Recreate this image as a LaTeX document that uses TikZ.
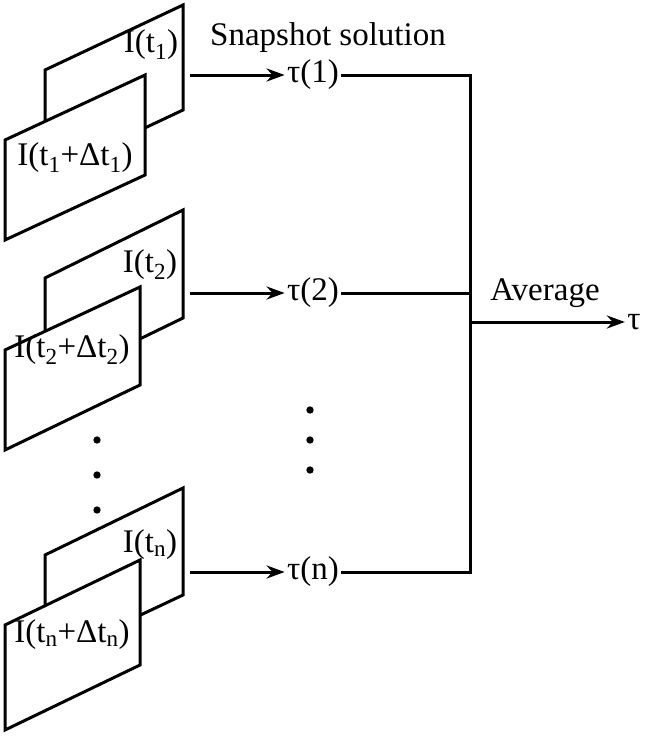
\documentclass[tikz,border=0pt]{standalone}
\usepackage{fontspec}
\setmainfont{Liberation Serif}
\usetikzlibrary{arrows.meta}
\newcommand{\sbs}[1]{\textsubscript{#1}}
\begin{document}
\begin{tikzpicture}[x=1pt,y=-1pt,line width=3pt,
  frame/.style={draw,fill=white,line join=miter},
  lbl/.style={font=\fontsize{33}{38}\selectfont,inner sep=1pt},
  arr/.style={-{Stealth[length=18pt,width=13pt]}},
  dot/.style={fill,circle,inner sep=2.6pt}]
\useasboundingbox (0,0) rectangle (664,736);
% group 1
\draw[frame] (45,70) -- (183,5) -- (183,110) -- (45,175) -- cycle;
\draw[frame] (5,140) -- (145,75) -- (145,175) -- (5,240) -- cycle;
\node[lbl] (i1) at (151,45) {I(t\sbs{1})};
\node[lbl] (j1) at (75,158) {I(t\sbs{1}+Δt\sbs{1})};
% group 2
\draw[frame] (45,278) -- (183,210) -- (183,318) -- (45,385) -- cycle;
\draw[frame] (5,350) -- (140,287) -- (140,385) -- (5,450) -- cycle;
\node[lbl] (i2) at (150,265) {I(t\sbs{2})};
\node[lbl] (j2) at (72,350) {I(t\sbs{2}+Δt\sbs{2})};
% group n
\draw[frame] (45,555) -- (183,488) -- (183,595) -- (45,660) -- cycle;
\draw[frame] (5,625) -- (140,560) -- (140,665) -- (5,730) -- cycle;
\node[lbl] (i3) at (150,545) {I(t\sbs{n})};
\node[lbl] (j3) at (72,635) {I(t\sbs{n}+Δt\sbs{n})};
% dots
\foreach \y in {440,475,510} \node[dot] at (97,\y) {};
\foreach \y in {410,440,470} \node[dot] at (310,\y) {};
% taus
\node[lbl] (s) at (328,38) {Snapshot solution};
\node[lbl] (t1) at (313,75) {τ(1)};
\node[lbl] (t2) at (313,293) {τ(2)};
\node[lbl] (t3) at (313,572) {τ(n)};
\coordinate (a1) at (190,75); \coordinate (a2) at (190,293); \coordinate (a3) at (190,572);
\draw[arr] (a1) -- (t1.west);
\draw[arr] (a2) -- (t2.west);
\draw[arr] (a3) -- (t3.west);
\coordinate (c1) at (470,75); \coordinate (c2) at (470,293); \coordinate (c3) at (470,572);
\draw (t1.east) -- (c1) -- (c3) -- (t3.east);
\draw (t2.east) -- (c2);
\coordinate (m) at (470,322);
\node[lbl] (tau) at (634,322) {τ};
\draw[arr] (m) -- (tau.west);
\node[lbl] at (545,293) {Average};
\end{tikzpicture}
\end{document}
